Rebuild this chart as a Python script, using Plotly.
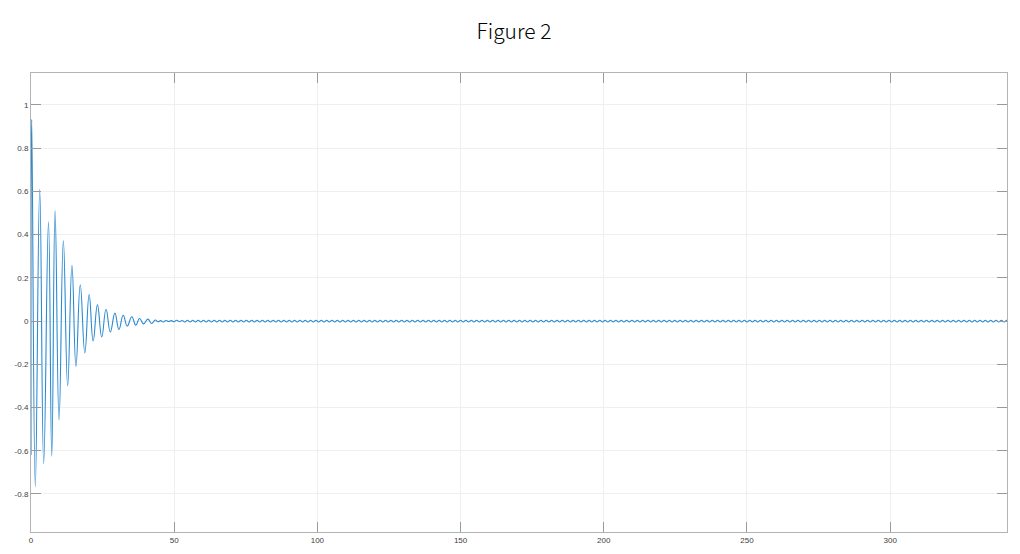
import numpy as np
import plotly.graph_objects as go

# extrema of the decaying part
main_t = [0, 0.25, 1.5, 3.04, 4.43, 6.1, 7.25, 8.4, 9.79, 11.3, 12.8, 14.3,
          15.7, 17.2, 18.8, 20.3, 21.7, 23.2, 24.7, 26.2, 27.7, 29.3, 30.7,
          32.2, 33.6, 35.2, 36.6, 37.9, 39.3, 40.8, 42.1]
main_y = [-0.62, 0.934, -0.767, 0.61, -0.66, 0.46, -0.625, 0.511, -0.458,
          0.372, -0.30, 0.258, -0.21, 0.168, -0.147, 0.123, -0.092, 0.075,
          -0.073, 0.055, -0.05, 0.037, -0.039, 0.027, -0.023, 0.02, -0.019,
          0.012, -0.013, 0.009, -0.011]

# small residual ripple after t ~ 43 (one value per half period)
tail_start = 43.4
tail_step = 0.935
tail_y = [
    0.005, -0.003, 0.002, -0.004, 0.003, -0.002, 0.002, -0.003, 0.004, -0.003,
    0.003, -0.004, 0.004, -0.004, 0.004, -0.004, 0.004, -0.004, 0.004, -0.004,
    0.004, -0.004, 0.004, -0.004, 0.004, -0.004, 0.004, -0.004, 0.004, -0.004,
    0.004, -0.004, 0.004, -0.004, 0.004, -0.004, 0.004, -0.004, 0.004, -0.004,
    0.004, -0.004, 0.004, -0.004, 0.004, -0.004, 0.004, -0.004, 0.004, -0.004,
    0.004, -0.004, 0.004, -0.004, 0.004, -0.004, 0.004, -0.004, 0.004, -0.004,
    0.004, -0.004, 0.004, -0.004, 0.004, -0.004, 0.004, -0.004, 0.004, -0.004,
    0.004, -0.004, 0.004, -0.004, 0.004, -0.004, 0.004, -0.004, 0.004, -0.004,
    0.004, -0.004, 0.004, -0.004, 0.004, -0.004, 0.004, -0.004, 0.004, -0.004,
    0.004, -0.004, 0.004, -0.004, 0.004, -0.004, 0.004, -0.004, 0.004, -0.004,
    0.004, -0.004, 0.004, -0.004, 0.004, -0.004, 0.004, -0.004, 0.004, -0.004,
    0.004, -0.004, 0.004, -0.004, 0.004, -0.004, 0.004, -0.004, 0.004, -0.004,
    0.004, -0.004, 0.004, -0.004, 0.004, -0.004, 0.004, -0.004, 0.004, -0.004,
    0.004, -0.004, 0.004, -0.004, 0.004, -0.004, 0.004, -0.004, 0.004, -0.004,
    0.004, -0.004, 0.004, -0.004, 0.004, -0.004, 0.004, -0.004, 0.004, -0.004,
    0.004, -0.004, 0.004, -0.004, 0.004, -0.004, 0.004, -0.004, 0.004, -0.004,
    0.004, -0.004, 0.004, -0.004, 0.004, -0.004, 0.004, -0.004, 0.004, -0.004,
    0.004, -0.004, 0.004, -0.004, 0.004, -0.004, 0.004, -0.004, 0.004, -0.004,
    0.004, -0.004, 0.004, -0.004, 0.004, -0.004, 0.004, -0.004, 0.004, -0.004,
    0.004, -0.004, 0.004, -0.004, 0.004, -0.004, 0.004, -0.004, 0.004, -0.004,
    0.004, -0.004, 0.004, -0.004, 0.004, -0.004, 0.004, -0.004, 0.004, -0.004,
    0.004, -0.004, 0.004, -0.004, 0.004, -0.004, 0.004, -0.004, 0.004, -0.004,
    0.004, -0.004, 0.004, -0.004, 0.004, -0.004, 0.004, -0.004, 0.004, -0.004,
    0.004, -0.004, 0.004, -0.004, 0.004, -0.004, 0.004, -0.004, 0.004, -0.004,
    0.004, -0.004, 0.004, -0.004, 0.004, -0.004, 0.004, -0.004, 0.004, -0.004,
    0.004, -0.004, 0.004, -0.004, 0.004, -0.004, 0.004, -0.004, 0.004, -0.004,
    0.004, -0.004, 0.004, -0.004, 0.004, -0.004, 0.004, -0.004, 0.004, -0.004,
    0.004, -0.004, 0.004, -0.004, 0.004, -0.004, 0.004, -0.004, 0.004, -0.004,
    0.004, -0.004, 0.004, -0.004, 0.004, -0.004, 0.004, -0.004, 0.004, -0.004,
    0.004, -0.004, 0.004, -0.004, 0.004, -0.004, 0.004, -0.004, 0.004, -0.004,
    0.004, -0.004, 0.004, -0.004, 0.004, -0.004, 0.004, -0.004, 0.004, -0.004,
    0.004, -0.004, 0.004, -0.004, 0.004, -0.004, 0.004, -0.004, 0.004, -0.004,
]

x_ticks = [0, 50, 100, 150, 200, 250, 300]
y_ticks = [-0.8, -0.6, -0.4, -0.2, 0, 0.2, 0.4, 0.6, 0.8, 1]
y_tick_labels = ["-0.8", "-0.6", "-0.4", "-0.2", "0", "0.2", "0.4", "0.6", "0.8", "1"]

tail_t = tail_start + tail_step * np.arange(len(tail_y))
t = list(main_t) + list(tail_t)
y = list(main_y) + list(tail_y)

fig = go.Figure()
fig.add_trace(
    go.Scatter(
        x=t,
        y=y,
        mode="lines",
        line=dict(color="#2a8ad2", width=1.1, shape="spline", smoothing=1.3),
        showlegend=False,
        hoverinfo="skip",
    )
)

axis_common = dict(
    automargin=False,
    showline=True,
    linecolor="#b4b4b4",
    linewidth=1,
    mirror="ticks",
    ticks="inside",
    ticklen=10,
    tickwidth=1,
    tickcolor="#9a9a9a",
    showgrid=True,
    gridcolor="#efefef",
    gridwidth=1,
    zeroline=False,
    tickfont=dict(family="Liberation Sans", size=8, color="#404040"),
)

fig.update_xaxes(
    range=[0, 340.8],
    tickvals=x_ticks,
    ticktext=[str(v) for v in x_ticks],
    **axis_common
)
fig.update_yaxes(
    range=[-0.976, 1.148],
    tickvals=y_ticks,
    ticktext=y_tick_labels,
    **axis_common
)

# the page body adds an 8px margin, so the figure is sized to fit the window
fig.update_layout(
    width=1012,
    height=546,
    paper_bgcolor="white",
    plot_bgcolor="white",
    margin=dict(l=23, r=13, t=65, b=22, autoexpand=False),
    title=dict(
        text="Figure 2",
        x=0.5,
        xref="container",
        xanchor="center",
        y=0.956,
        yref="container",
        yanchor="middle",
        font=dict(family="Noto Sans CJK SC", size=21, color="#000000", weight=300),
    ),
)

fig.write_html("out.html")
